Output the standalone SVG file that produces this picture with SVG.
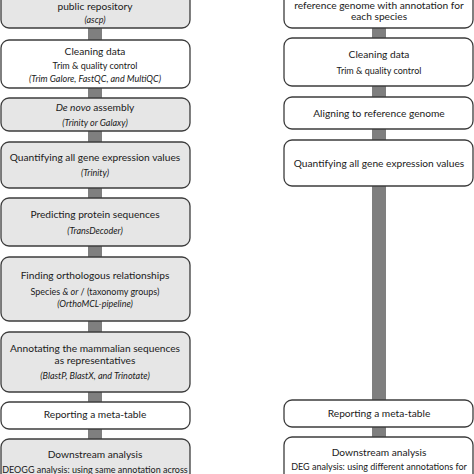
<svg xmlns="http://www.w3.org/2000/svg" width="474" height="474" viewBox="0 0 474 474">
<style>
.box{stroke:#3c3c3c;stroke-width:1.3}
.g{fill:#e6e6e6}
.w{fill:#ffffff}
.bar{fill:#7f7f7f}
text{font-family:Lato,"Liberation Sans",sans-serif;fill:#1a1a1a;text-anchor:middle}
.m{font-size:10.2px}
.s{font-size:9px}
.i{font-size:9px;font-style:italic}
</style>
<rect width="474" height="474" fill="#ffffff"/>
<g id="connectors">
<rect class="bar" x="88" y="26" width="14" height="16"/>
<rect class="bar" x="88" y="86" width="14" height="14"/>
<rect class="bar" x="88" y="129" width="14" height="15"/>
<rect class="bar" x="88" y="186" width="14" height="14"/>
<rect class="bar" x="88" y="244" width="14" height="15"/>
<rect class="bar" x="88" y="319" width="14" height="15"/>
<rect class="bar" x="88" y="390" width="14" height="14"/>
<rect class="bar" x="88" y="427" width="14" height="14"/>
<rect class="bar" x="372" y="26" width="14" height="14"/>
<rect class="bar" x="372" y="84" width="14" height="15"/>
<rect class="bar" x="372" y="127" width="14" height="15"/>
<rect class="bar" x="372" y="184" width="14" height="218"/>
<rect class="bar" x="372" y="425" width="14" height="14"/>
</g>
<g id="l1"><rect class="box g" x="1" y="-30" width="189" height="58" rx="8"/>
<text class="m" x="95" y="10">public repository</text>
<text class="i" x="95" y="23">(ascp)</text></g>
<g id="l2"><rect class="box w" x="1" y="40" width="189" height="48" rx="8"/>
<text class="m" x="95" y="55">Cleaning data</text>
<text class="s" x="95" y="69">Trim &amp; quality control</text>
<text class="i" x="95" y="82">(Trim Galore, FastQC, and MultiQC)</text></g>
<g id="l3"><rect class="box g" x="1" y="98" width="189" height="33" rx="8"/>
<text class="m" x="95" y="111"><tspan font-style="italic">De novo</tspan> assembly</text>
<text class="i" x="95" y="126">(Trinity or Galaxy)</text></g>
<g id="l4"><rect class="box g" x="1" y="142" width="189" height="46" rx="8"/>
<text class="m" x="95" y="161">Quantifying all gene expression values</text>
<text class="i" x="95" y="176">(Trinity)</text></g>
<g id="l5"><rect class="box g" x="1" y="198" width="189" height="48" rx="8"/>
<text class="m" x="95" y="218">Predicting protein sequences</text>
<text class="i" x="95" y="234">(TransDecoder)</text></g>
<g id="l6"><rect class="box g" x="1" y="257" width="189" height="64" rx="8"/>
<text class="m" x="95" y="279">Finding orthologous relationships</text>
<text class="s" x="95" y="295">Species <tspan font-style="italic">&amp; or</tspan> / (taxonomy groups)</text>
<text class="i" x="95" y="307">(OrthoMCL-pipeline)</text></g>
<g id="l7"><rect class="box g" x="1" y="332" width="189" height="60" rx="8"/>
<text class="m" x="95" y="352">Annotating the mammalian sequences</text>
<text class="m" x="95" y="364">as representatives</text>
<text class="i" x="95" y="379">(BlastP, BlastX, and Trinotate)</text></g>
<g id="l8"><rect class="box w" x="1" y="402" width="189" height="27" rx="8"/>
<text class="m" x="95" y="418">Reporting a meta-table</text></g>
<g id="l9"><rect class="box g" x="1" y="439" width="189" height="60" rx="8"/>
<text class="m" x="95" y="458">Downstream analysis</text>
<text class="s" x="95" y="473">DEOGG analysis: using same annotation across</text></g>
<g id="r1"><rect class="box w" x="284" y="-30" width="189" height="58" rx="8"/>
<text class="m" x="379" y="9">reference genome with annotation for</text>
<text class="m" x="379" y="20">each species</text></g>
<g id="r2"><rect class="box w" x="284" y="38" width="189" height="48" rx="8"/>
<text class="m" x="379" y="58">Cleaning data</text>
<text class="s" x="379" y="74">Trim &amp; quality control</text></g>
<g id="r3"><rect class="box w" x="284" y="97" width="189" height="32" rx="8"/>
<text class="m" x="379" y="117">Aligning to reference genome</text></g>
<g id="r4"><rect class="box w" x="284" y="140" width="189" height="46" rx="8"/>
<text class="m" x="379" y="167">Quantifying all gene expression values</text></g>
<g id="r5"><rect class="box w" x="284" y="400" width="189" height="27" rx="8"/>
<text class="m" x="379" y="417">Reporting a meta-table</text></g>
<g id="r6"><rect class="box w" x="284" y="437" width="189" height="60" rx="8"/>
<text class="m" x="379" y="456">Downstream analysis</text>
<text class="s" x="379" y="470">DEG analysis: using different annotations for</text></g>
</svg>
